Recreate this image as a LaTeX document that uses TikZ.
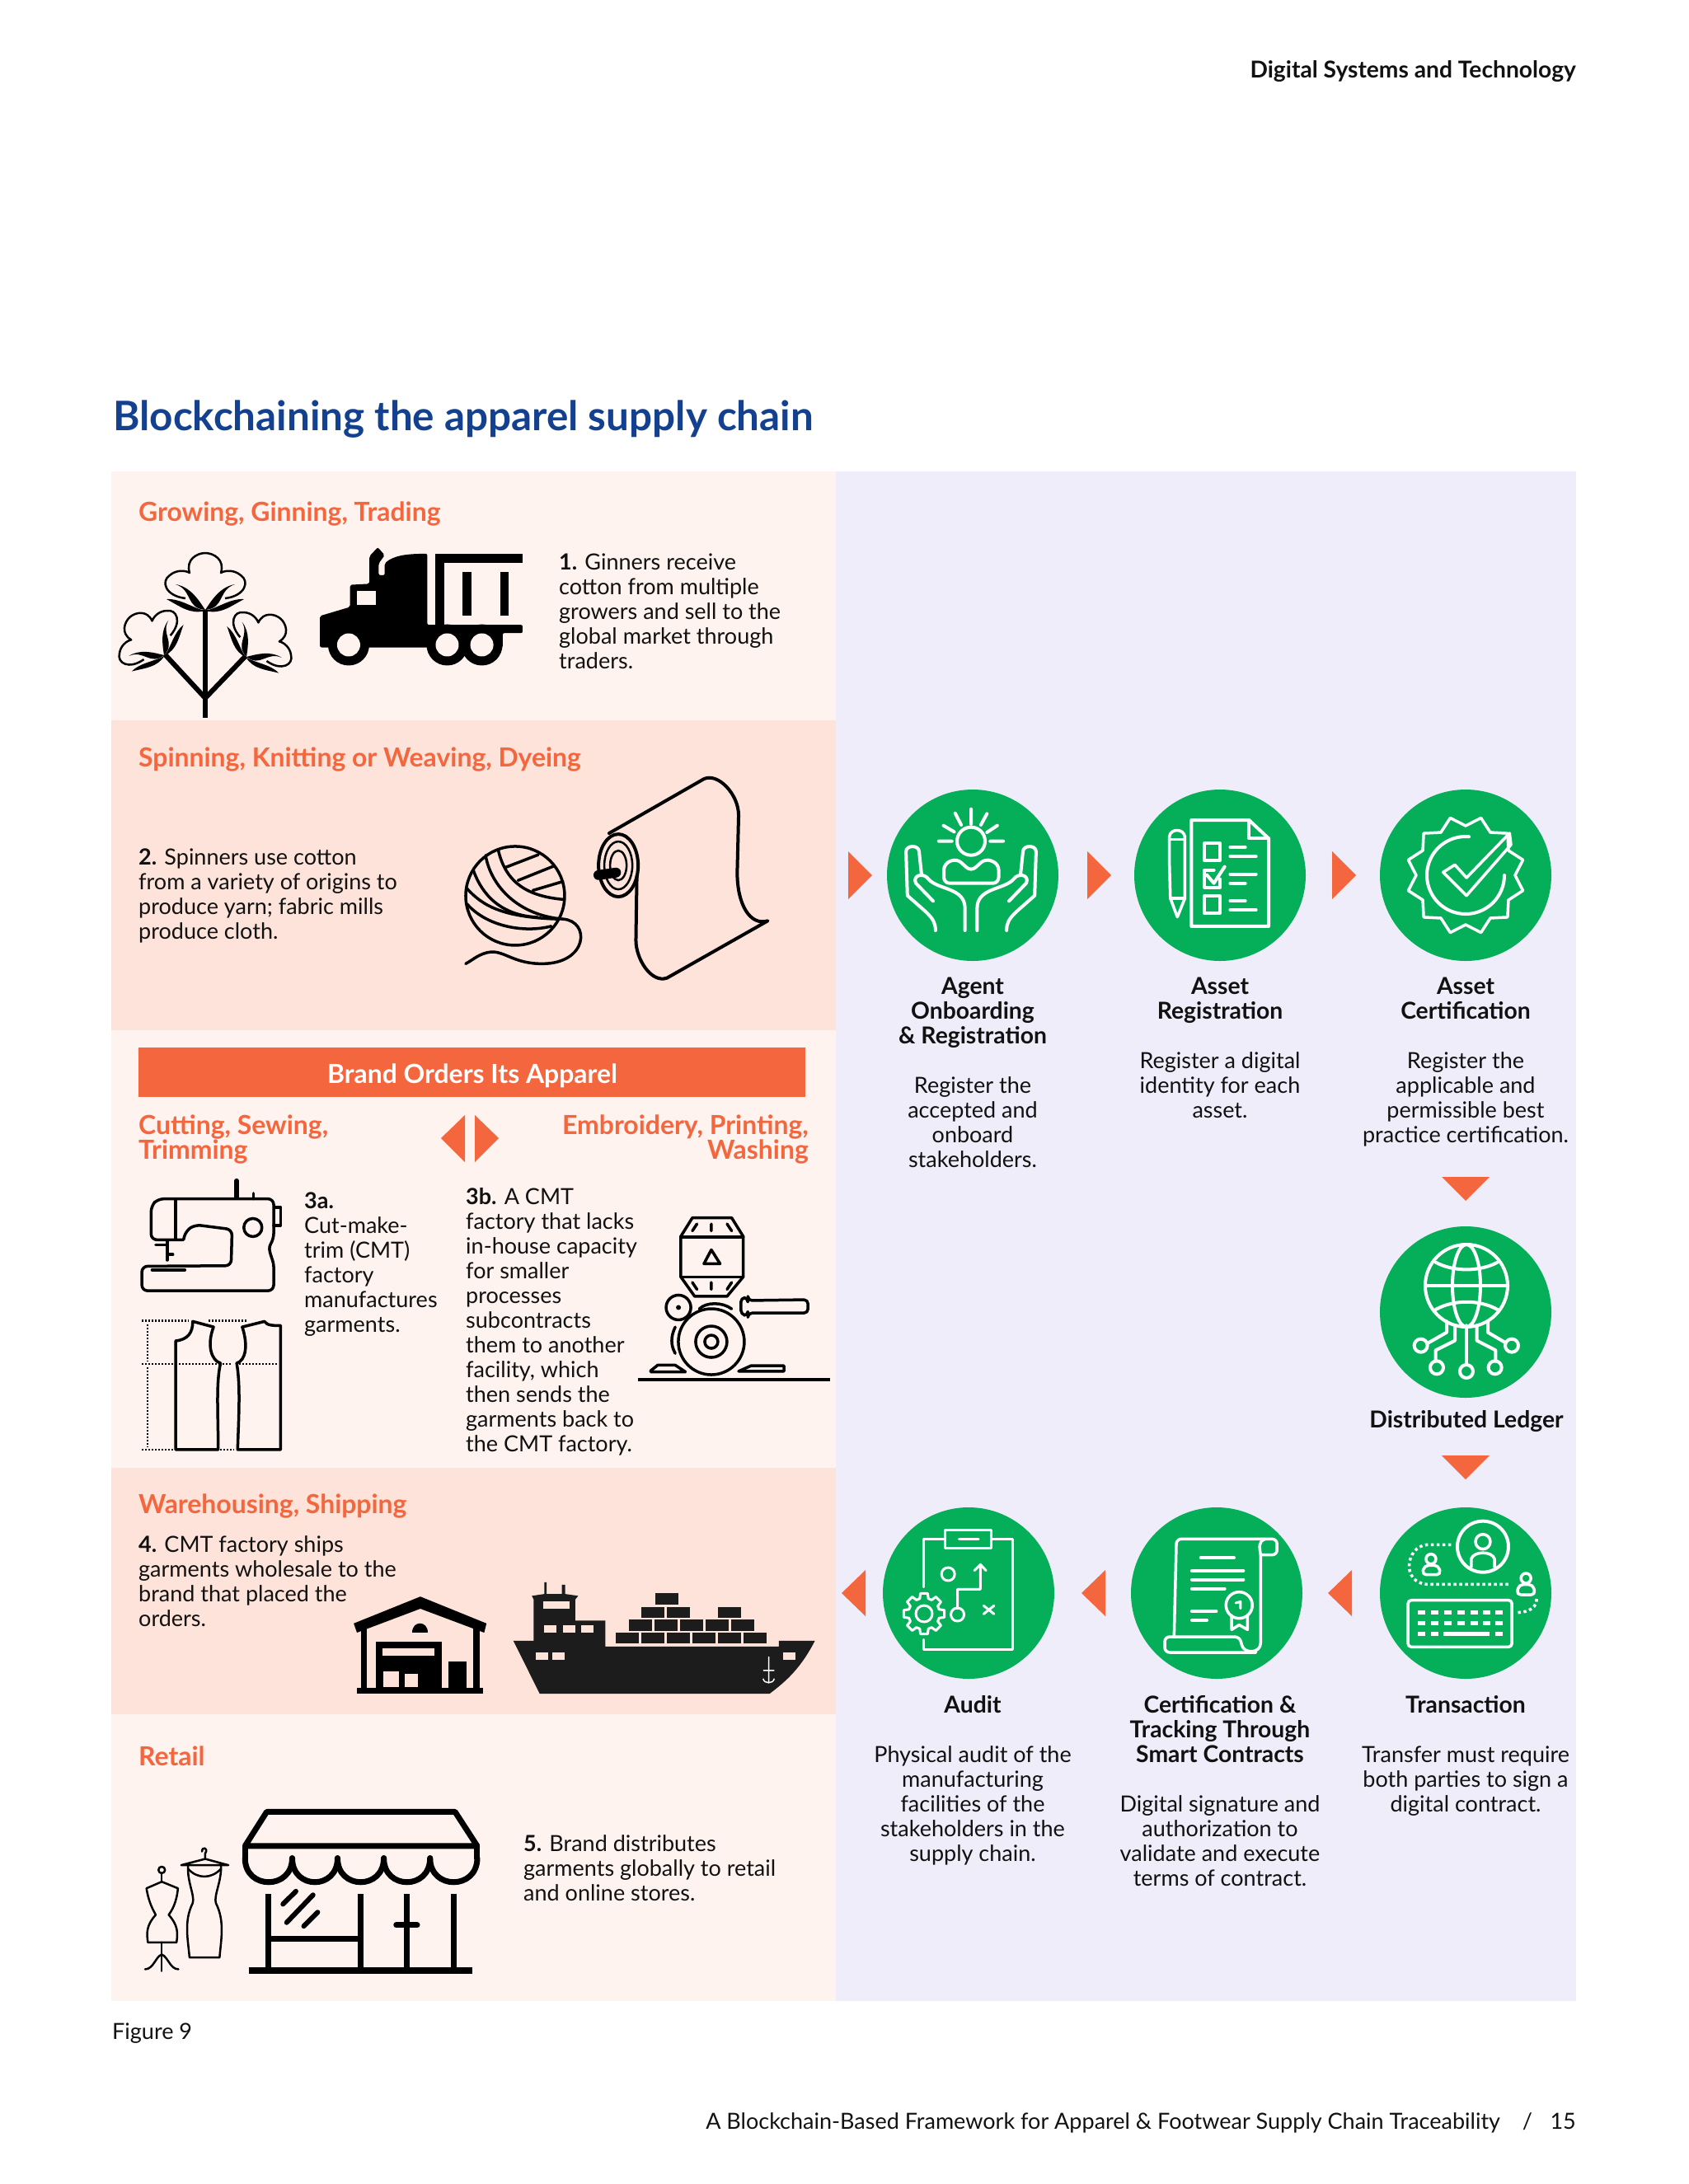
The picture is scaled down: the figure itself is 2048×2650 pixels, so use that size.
\documentclass[tikz,border=0pt]{standalone}
\usepackage{fontspec}
\setmainfont{Lato}
\definecolor{panellight}{HTML}{FEF3EF}
\definecolor{panelpeach}{HTML}{FDE3D9}
\definecolor{panelblue}{HTML}{EEEDF9}
\definecolor{accent}{HTML}{F4663D}
\definecolor{badgegreen}{HTML}{05AF5A}
\definecolor{titleblue}{HTML}{14418F}
\definecolor{inkcol}{HTML}{111111}
\newcommand{\bodyfont}{\fontsize{27}{30}\selectfont}
\newcommand{\headfont}{\fontsize{31.9}{30}\selectfont\bfseries}
\newcommand{\capfont}{\fontsize{28.3}{30}\selectfont\bfseries}
\tikzset{
  cropa/.style={shift={(130,560)},x=.5612pt,y=-.4337pt},
  cropb/.style={shift={(130,1240)},x=.5612pt,y=-.338pt},
  cropc/.style={shift={(130,1760)},x=.5612pt,y=-.4464pt},
  cropd/.style={shift={(1010,930)},x=.5676pt,y=-.3333pt},
  crope/.style={shift={(1010,1780)},x=.5676pt,y=-.3333pt},
  cropf/.style={shift={(1630,1400)},x=.3333pt,y=-.3333pt},
  boll/.pic={
    \draw[line width=2.5pt,line join=round] (-24,-14) .. controls (-49,-17) and (-54,-35) .. (-43,-42)
      .. controls (-35,-49) and (-24,-48) .. (-19,-45) .. controls (-24,-61) and (-10,-69) .. (0,-69)
      .. controls (10,-69) and (24,-61) .. (19,-45) .. controls (24,-48) and (35,-49) .. (43,-42)
      .. controls (54,-35) and (49,-17) .. (24,-14);
    \foreach \m in {1,-1} {
      \fill[xscale=\m] (0,0) .. controls (-24,-2) and (-15,-24) .. (-36,-31) .. controls (-18,-28) and (-8,-12) .. (0,0);
      \fill[xscale=\m] (0,1) .. controls (-18,6) and (-30,-4) .. (-47,-13) .. controls (-30,-14) and (-15,-2) .. (0,1);
    }
  }
}
\begin{document}
\begin{tikzpicture}[x=1pt,y=-1pt,inner sep=0pt,text=inkcol,
    sechead/.style={font=\headfont,text=accent,align=left,anchor=base west},
    bodytext/.style={font=\bodyfont,align=left,anchor=base west},
    caption/.style={font=\capfont,align=center,anchor=base},
    stepnote/.style={font=\bodyfont,align=center,anchor=base},
    badge/.style={circle,fill=badgegreen,minimum size=208pt},
    blk/.style={draw=black,line width=3.5pt,line cap=round,line join=round},
    hair/.style={draw=black,line width=2.5pt,line cap=round,line join=round},
    wht/.style={draw=white,line width=4pt,line cap=round,line join=round},
    dots/.style={draw=black,line width=2.5pt,dash pattern=on 2pt off 2pt}]
  \useasboundingbox (0,0) rectangle (2048,2650);

  % panels
  \fill[panelblue] (1014,572) rectangle (1912,2428);
  \fill[panellight] (135,572) rectangle (1014,874);
  \fill[panelpeach] (135,874) rectangle (1014,1250);
  \fill[panellight] (135,1250) rectangle (1014,1781);
  \fill[panelpeach] (135,1781) rectangle (1014,2080);
  \fill[panellight] (135,2080) rectangle (1014,2428);
  \fill[accent] (168,1271) rectangle (977,1331);

  % page texts
  \node[font=\fontsize{28.2}{30}\selectfont\bfseries,anchor=base east] (runhead) at (1912,94) {Digital Systems and Technology};
  \node[font=\fontsize{49.4}{50}\selectfont\bfseries,text=titleblue,anchor=base west] (maintitle) at (137,522) {Blockchaining the apparel supply chain};
  \node[bodytext] (figlabel) at (136,2474) {Figure 9};
  \node[font=\bodyfont,anchor=base east] (footline) at (1820,2583) {A Blockchain-Based Framework for Apparel \& Footwear Supply Chain Traceability};
  \node[font=\bodyfont,anchor=base] (footslash) at (1853,2583) {/};
  \node[font=\bodyfont,anchor=base east] (footpage) at (1912,2583) {15};

  % left column
  \node[sechead] (growhead) at (168,632) {Growing, Ginning, Trading};
  \node[bodytext] (ginners) at (678,811) {\textbf{1.} Ginners receive\\cotton from multiple\\growers and sell to the\\global market through\\traders.};
  \node[sechead] (spinhead) at (168,930) {Spinning, Knitting or Weaving, Dyeing};
  \node[bodytext] (spinners) at (168,1139) {\textbf{2.} Spinners use cotton\\from a variety of origins to\\produce yarn; fabric mills\\produce cloth.};
  \node[font=\headfont,text=white,anchor=base] (brandbar) at (573,1314) {Brand Orders Its Apparel};
  \node[sechead] (cuthead) at (168,1406) {Cutting, Sewing,\\Trimming};
  \node[sechead,align=right,anchor=base east] (embhead) at (981,1406) {Embroidery, Printing,\\Washing};
  \node[bodytext] (cmtnote) at (369,1616) {\textbf{3a.}\\Cut-make-\\trim (CMT)\\factory\\manufactures\\garments.};
  \node[bodytext] (subnote) at (565,1761) {\textbf{3b.} A CMT\\factory that lacks\\in-house capacity\\for smaller\\processes\\subcontracts\\them to another\\facility, which\\then sends the\\garments back to\\the CMT factory.};
  \node[sechead] (wareshead) at (168,1836) {Warehousing, Shipping};
  \node[bodytext] (shipnote) at (168,1973) {\textbf{4.} CMT factory ships\\garments wholesale to the\\brand that placed the\\orders.};
  \node[sechead] (retailhead) at (168,2142) {Retail};
  \node[bodytext] (retailnote) at (635,2306) {\textbf{5.} Brand distributes\\garments globally to retail\\and online stores.};

  % badges
  \node[badge] (agent) at (1180,1062) {};
  \node[badge] (assetreg) at (1480,1062) {};
  \node[badge] (assetcert) at (1778,1062) {};
  \node[badge] (ledger) at (1778,1592) {};
  \node[badge] (audit) at (1175,1933) {};
  \node[badge] (certtrack) at (1476,1933) {};
  \node[badge] (transact) at (1778,1933) {};

  % badge captions
  \node[caption] (agentcap) at (1180,1266) {Agent\\Onboarding\\\& Registration};
  \node[stepnote] (agentnote) at (1180,1416) {Register the\\accepted and\\onboard\\stakeholders.};
  \node[caption] (regcap) at (1480,1236) {Asset\\Registration};
  \node[stepnote] (regnote) at (1480,1356) {Register a digital\\identity for each\\asset.};
  \node[caption] (certcap) at (1778,1236) {Asset\\Certification};
  \node[stepnote] (certnote) at (1778,1386) {Register the\\applicable and\\permissible best\\practice certification.};
  \node[caption] (ledgercap) at (1779,1732) {Distributed Ledger};
  \node[caption] (auditcap) at (1180,2078) {Audit};
  \node[stepnote] (auditnote) at (1180,2258) {Physical audit of the\\manufacturing\\facilities of the\\stakeholders in the\\supply chain.};
  \node[caption] (trackcap) at (1480,2138) {Certification \&\\Tracking Through\\Smart Contracts};
  \node[stepnote] (tracknote) at (1480,2288) {Digital signature and\\authorization to\\validate and execute\\terms of contract.};
  \node[caption] (transcap) at (1778,2078) {Transaction};
  \node[stepnote] (transnote) at (1778,2198) {Transfer must require\\both parties to sign a\\digital contract.};

  % triangles
  \foreach \x in {1029,1319,1616}
    \fill[accent] (\x,1033) -- (\x+29,1062) -- (\x,1091) -- cycle;
  \foreach \y in {1428,1766}
    \fill[accent] (1749,\y) -- (1807,\y) -- (1778,\y+29) -- cycle;
  \foreach \x in {1021,1312,1611}
    \fill[accent] (\x+29,1905) -- (\x,1933) -- (\x+29,1961) -- cycle;
  \fill[accent] (564,1353) -- (535,1381) -- (564,1410) -- cycle;
  \fill[accent] (576,1353) -- (605,1381) -- (576,1410) -- cycle;

  % cotton plant
  \draw[black,line width=6pt] (249,740) -- (249,871);
  \draw[black,line width=6pt,line join=miter] (200,794) -- (249,847) -- (298,796);
  \path (249,740) pic {boll};
  \path (199,795) pic[rotate=42,scale=.9] {boll};
  \path (299,797) pic[rotate=-42,scale=.9] {boll};

  % truck
  \begin{scope}[cropa]
    \fill[black,rounded corners=2pt] (460,432) -- (525,407) -- (525,345) -- (567,342) -- (567,265) -- (585,240)
      -- (600,262) -- (587,285) -- (587,318) -- (600,318) -- (600,285) .. controls (620,262) and (650,258) .. (692,258)
      -- (692,457) -- (898,457) -- (898,480) -- (855,480) -- (855,520) -- (460,520) -- cycle;
    \fill[black] (710,258) rectangle (898,283);
    \fill[black] (710,258) rectangle (728,460);
    \fill[black] (768,308) rectangle (788,430);
    \fill[black] (850,308) rectangle (868,430);
    \fill[panellight] (540,362) rectangle (580,402);
    \foreach \x in {522,735,810} {
      \fill[black] (\x,513) circle[radius=25pt];
    }
    \foreach \x in {522,735,810} {
      \fill[panellight] (\x,513) circle[radius=14pt];
    }
  \end{scope}

  % yarn and roll
  \begin{scope}[cropa]
    \draw[blk] (882,1215) circle[radius=60pt];
    \draw[blk] (845,1085) .. controls (860,1170) and (900,1215) .. (985,1225);
    \draw[blk] (818,1102) .. controls (830,1190) and (890,1270) .. (985,1280);
    \draw[blk] (792,1145) .. controls (810,1210) and (850,1270) .. (930,1275);
    \draw[blk] (778,1195) .. controls (810,1240) and (850,1275) .. (975,1280);
    \draw[blk] (778,1238) .. controls (820,1300) and (900,1320) .. (960,1300);
    \draw[blk] (862,1135) -- (932,1100);
    \draw[blk] (888,1172) -- (965,1132);
    \draw[blk] (920,1200) -- (985,1175);
    \draw[blk] (985,1280) .. controls (1045,1285) and (1040,1405) .. (940,1405)
      .. controls (880,1405) and (860,1370) .. (830,1372) .. controls (805,1375) and (790,1395) .. (775,1405);
    \draw[blk,line width=4pt] (1085,1040) -- (1290,888) .. controls (1320,870) and (1365,930) .. (1365,990)
      -- (1362,1150) .. controls (1362,1240) and (1390,1300) .. (1428,1285) -- (1210,1445)
      .. controls (1175,1460) and (1143,1390) .. (1143,1340) -- (1145,1160);
    \draw[blk,line width=4pt] (1105,1130) ellipse[x radius=24pt,y radius=38pt];
    \draw[hair] (1105,1130) ellipse[x radius=17pt,y radius=29pt];
    \draw[hair] (1105,1130) ellipse[x radius=10pt,y radius=18pt];
    \draw[black,line width=12pt,line cap=round] (1062,1157) -- (1100,1150);
  \end{scope}

  % sewing machine and pattern
  \begin{scope}[cropb]
    \draw[blk,rounded corners=7pt] (165,782) -- (95,782) -- (95,660) -- (110,635) -- (360,635) -- (360,780)
      .. controls (345,820) and (360,850) .. (360,900) -- (360,965) -- (75,965) -- (75,877) -- (268,875) -- (270,745)
      -- (190,728) -- (170,750) -- (165,782);
    \draw[blk] (148,640) -- (148,780);
    \draw[blk] (315,738) circle[radius=11pt];
    \draw[black,line width=5.5pt,line cap=round] (280,570) -- (280,628);
    \draw[blk] (316,615) -- (316,635);
    \draw[blk] (362,665) -- (375,665) -- (375,730) -- (360,730);
    \draw[blk] (130,785) -- (130,855) (105,800) -- (130,800) (130,835) -- (142,835);
    \draw[blk] (97,890) -- (168,890);
    \draw[blk] (148,1535) -- (148,1145) .. controls (175,1140) and (185,1115) .. (185,1075) -- (230,1095)
      .. controls (215,1160) and (225,1215) .. (245,1225) .. controls (235,1300) and (240,1400) .. (240,1535) -- cycle;
    \draw[blk] (282,1535) .. controls (285,1400) and (288,1300) .. (280,1225) .. controls (300,1215) and (305,1160) .. (292,1095)
      -- (340,1075) .. controls (345,1090) and (360,1090) .. (375,1090) -- (375,1535) -- cycle;
    \draw[dots] (75,1072) -- (175,1072) (220,1072) -- (305,1072);
    \draw[dots] (75,1228) -- (145,1228) (155,1228) -- (245,1228) (250,1228) -- (270,1228) (285,1228) -- (370,1228);
    \draw[dots] (75,1535) -- (145,1535) (245,1535) -- (275,1535);
    \draw[dots] (87,1085) -- (87,1220) (87,1240) -- (87,1525);
  \end{scope}

  % cutting machine
  \begin{scope}[cropb]
    \draw[blk] (1265,703) -- (1350,703) -- (1375,770) -- (1375,915) -- (1340,985) -- (1270,985) -- (1240,915) -- (1240,770) -- cycle;
    \draw[blk] (1240,772) -- (1375,772) (1240,915) -- (1375,915);
    \draw[blk] (1275,725) -- (1265,750) (1306,725) -- (1306,750) (1340,725) -- (1350,750);
    \draw[blk] (1265,935) -- (1275,960) (1306,935) -- (1306,960) (1350,935) -- (1340,960);
    \draw[blk] (1306,818) -- (1290,868) -- (1325,868) -- cycle;
    \draw[blk] (1235,1025) circle[radius=15pt];
    \fill[black] (1235,1025) circle[radius=3pt];
    \draw[blk] (1306,1148) circle[radius=40pt];
    \draw[blk] (1306,1148) circle[radius=19pt];
    \draw[blk] (1306,1148) circle[radius=8pt];
    \draw[blk] (1280,1030) .. controls (1295,1005) and (1330,1005) .. (1350,1030);
    \draw[blk] (1228,1095) .. controls (1218,1130) and (1218,1160) .. (1228,1190);
    \draw[blk,rounded corners=5pt] (1370,1050) -- (1370,990) -- (1385,990) -- (1385,1000) -- (1515,997) -- (1515,1045) -- (1385,1045) -- (1385,1055) -- cycle;
    \draw[blk] (1175,1252) -- (1190,1232) -- (1228,1232) -- (1250,1256) -- (1175,1256) -- cycle;
    \draw[blk] (1365,1254) -- (1392,1234) -- (1463,1234) -- (1463,1254) -- cycle;
    \draw[black,line width=4.5pt] (1147,1284) -- (1563,1284);
  \end{scope}

  % warehouse and ship
  \begin{scope}[cropc]
    \fill[black] (533,470) -- (677,397) -- (820,470) -- (815,495) -- (677,430) -- (540,495) -- cycle;
    \fill[black] (548,482) rectangle (562,650);
    \fill[black] (792,482) rectangle (806,650);
    \fill[black] (540,645) rectangle (813,661);
    \fill[black] (660,495) .. controls (660,462) and (693,462) .. (693,495) -- cycle;
    \fill[black] (580,520) rectangle (723,650);
    \fill[panelpeach] (595,538) rectangle (708,558);
    \fill[panelpeach] (597,600) rectangle (630,642);
    \fill[panelpeach] (643,608) rectangle (672,642);
    \fill[black] (738,574) rectangle (776,650);
    \fill[inkcol!90!gray] (878,517) -- (922,517) -- (922,405) -- (918,395) -- (945,390) -- (945,358) -- (950,358) -- (950,390)
      -- (983,390) -- (983,365) -- (990,365) -- (990,390) -- (1018,395) -- (1012,405) -- (1012,462) -- (1077,462) -- (1077,533)
      -- (1452,533) -- (1452,517) -- (1530,517) .. controls (1500,590) and (1470,625) .. (1432,661) -- (935,661) -- cycle;
    \fill[panelpeach] (942,410) rectangle (1000,431);
    \foreach \x in {945,985,1025}
      \fill[panelpeach] (\x,475) rectangle (\x+27,496);
    \foreach \x in {927,963,1462}
      \fill[panelpeach] (\x,548) rectangle (\x+26,568);
    \foreach \x in {1100,1155,...,1375}
      \fill[inkcol!90!gray] (\x,495) rectangle (\x+50,524);
    \foreach \x in {1128,1183,...,1348}
      \fill[inkcol!90!gray] (\x,460) rectangle (\x+50,490);
    \foreach \x in {1155,1210,1320}
      \fill[inkcol!90!gray] (\x,425) rectangle (\x+50,455);
    \fill[inkcol!90!gray] (1185,388) rectangle (1235,418);
    \draw[white,line width=1.5pt] (1430,560) -- (1430,630) (1418,598) -- (1442,598) (1418,620) .. controls (1420,635) and (1440,635) .. (1442,620);
  \end{scope}

  % shop and dress forms
  \begin{scope}[cropc]
    \draw[black,line width=7pt,line join=round] (298,1075) -- (345,982) -- (752,982) -- (800,1075) -- cycle;
    \foreach \a/\b in {298/400,400/498,498/598,598/698,698/800}
      \draw[black,line width=7pt,line cap=round] (\a,1108) .. controls (\a,1195) and (\b,1195) .. (\b,1108);
    \draw[black,line width=7pt] (298,1075) -- (298,1110) (800,1075) -- (800,1110);
    \foreach \x in {348,548,648,749}
      \draw[black,line width=7pt] (\x,1205) -- (\x,1410);
    \draw[black,line width=7pt] (348,1327) -- (548,1327);
    \draw[black,line width=7pt,line cap=round] (625,1290) -- (670,1290);
    \draw[black,line width=6pt,line cap=round] (380,1233) -- (408,1198) (388,1283) -- (445,1208) (425,1293) -- (455,1255);
    \draw[black,line width=8pt] (306,1413) -- (790,1413);
    \draw[hair] (118,1140) circle[radius=4pt];
    \draw[hair] (118,1150) -- (118,1172);
    \draw[hair] (118,1172) -- (85,1190) .. controls (90,1230) and (100,1250) .. (105,1262) .. controls (85,1290) and (85,1310) .. (88,1337)
      -- (150,1337) .. controls (153,1310) and (153,1290) .. (133,1262) .. controls (140,1250) and (150,1230) .. (153,1190) -- cycle;
    \draw[hair] (118,1337) -- (118,1415);
    \draw[hair] (118,1370) .. controls (105,1375) and (100,1410) .. (82,1410);
    \draw[hair] (118,1370) .. controls (131,1375) and (136,1410) .. (154,1410);
    \draw[hair] (205,1090) .. controls (205,1075) and (220,1080) .. (212,1095) -- (212,1110);
    \draw[hair] (160,1127) -- (212,1110) -- (262,1127) -- cycle;
    \draw[hair] (175,1127) .. controls (172,1170) and (190,1210) .. (185,1230) .. controls (165,1280) and (175,1330) .. (178,1378)
      -- (243,1378) .. controls (246,1330) and (255,1280) .. (235,1230) .. controls (230,1210) and (248,1170) .. (246,1127);
    \draw[hair] (175,1137) .. controls (195,1165) and (225,1165) .. (246,1137);
  \end{scope}

  % agent icon
  \begin{scope}[cropd]
    \draw[wht] (296,272) circle[radius=17pt];
    \draw[wht] (227,272) -- (255,272) (337,272) -- (365,272) (237,215) -- (260,238) (352,215) -- (330,240)
      (262,170) -- (275,213) (330,172) -- (317,213) (296,155) -- (296,210);
    \draw[wht,rounded corners=7pt] (265,335) -- (296,382) -- (327,335) -- (355,355) -- (355,425) -- (238,425) -- (238,355) -- cycle;
    \foreach \m in {1,-1} {
      \begin{scope}[shift={(296,0)},xscale=\m,shift={(-296,0)}]
        \draw[wht] (220,597) .. controls (220,570) and (215,555) .. (200,530) -- (160,470) -- (157,310)
          .. controls (157,285) and (185,285) .. (185,310) -- (190,390);
        \draw[wht] (215,490) -- (178,425) .. controls (170,395) and (195,385) .. (205,410) .. controls (225,450) and (285,440) .. (283,520) -- (283,597);
      \end{scope}
    }
  \end{scope}

  % registration icon
  \begin{scope}[cropd]
    \draw[wht] (767,195) -- (890,195) -- (932,262) -- (932,582) -- (767,582) -- cycle;
    \draw[wht] (890,195) -- (890,262) -- (932,262);
    \foreach \y in {280,472}
      \draw[wht] (795,\y) rectangle (828,\y+62);
    \draw[wht] (828,410) -- (828,440) -- (795,440) -- (795,378) -- (815,378);
    \draw[wht] (800,395) -- (815,425) -- (838,365);
    \foreach \y in {293,425,490}
      \draw[wht] (850,\y) -- (882,\y);
    \foreach \y in {328,392,522}
      \draw[wht] (850,\y) -- (905,\y);
    \draw[wht,line width=3.5pt] (720,355) -- (720,255) .. controls (722,225) and (750,225) .. (753,255) -- (753,480) -- (737,548) -- (722,480) -- (720,355);
    \draw[wht,line width=3.5pt] (720,265) -- (753,265) (722,480) -- (753,480);
  \end{scope}

  % certification icon
  \begin{scope}[shift={(1778,1062)}]
    \draw[wht,line width=3.5pt] (15:72pt) \foreach \a in {15,45,...,345} { -- (\a:72pt) -- (\a+15:60pt) } -- cycle;
    \draw[wht] (85:47pt) arc[start angle=85,end angle=360,radius=47pt];
  \end{scope}
  \begin{scope}[cropd]
    \draw[wht,line width=3.5pt] (1447,243) -- (1355,405) -- (1330,358) -- (1305,385) -- (1355,470) -- (1450,285) -- cycle;
  \end{scope}

  % ledger icon
  \begin{scope}[cropf]
    \draw[wht] (447,480) circle[radius=50pt];
    \draw[wht] (447,480) ellipse[x radius=17pt,y radius=50pt];
    \draw[wht] (298,480) -- (598,480);
    \draw[wht] (335,395) .. controls (400,430) and (495,430) .. (560,395);
    \draw[wht] (335,567) .. controls (400,530) and (495,530) .. (560,567);
    \draw[wht] (447,625) -- (447,765);
    \draw[wht] (405,625) -- (405,680) -- (335,715) -- (335,755);
    \draw[wht] (375,610) -- (375,650) -- (305,690);
    \draw[wht] (485,625) -- (485,680) -- (553,715) -- (553,755);
    \draw[wht] (525,610) -- (525,650) -- (590,688);
    \foreach \p in {447/792,339/778,281/698,551/778,612/698}
      \foreach \a/\b in \p
        \draw[wht] (\a,\b) circle[radius=8pt];
  \end{scope}

  % audit icon
  \begin{scope}[crope]
    \draw[wht,line width=3pt] (240,262) -- (195,262) -- (195,437) (195,628) -- (195,665) -- (385,665) -- (385,262) -- (340,262);
    \draw[wht,line width=3pt] (240,228) rectangle (340,295);
    \draw[wht,line width=3pt] (270,262) -- (312,262);
    \draw[wht,line width=3pt] (247,390) circle[radius=8pt];
    \draw[wht,line width=3pt] (267,515) -- (267,445) -- (316,445) -- (316,360) (303,377) -- (316,355) -- (328,377);
    \draw[wht,line width=3pt] (267,537) circle[radius=8pt];
    \draw[wht,line width=3pt] (323,505) -- (345,535) (345,505) -- (323,535);
  \end{scope}
  \begin{scope}[shift={(1121,1958)}]
    \draw[wht,line width=3pt] (-10:25pt) \foreach \a in {0,45,...,315} { -- (\a-10:25pt) -- (\a+10:25pt) -- (\a+16:19pt) -- (\a+29:19pt) } -- cycle;
    \draw[wht,line width=3pt] (0,0) circle[radius=10pt];
  \end{scope}

  % contract icon
  \begin{scope}[crope]
    \draw[wht,line width=3.5pt,rounded corners=6pt] (730,615) -- (735,262) -- (950,262) -- (950,320) -- (915,320);
    \draw[wht,line width=3.5pt] (925,262) .. controls (910,270) and (912,290) .. (915,320) -- (915,640) .. controls (915,680) and (880,680) .. (875,650);
    \draw[wht,line width=3.5pt,rounded corners=6pt] (875,650) -- (870,618) -- (710,618) -- (710,675) -- (905,675);
    \foreach \l/\r/\y in {787/858/330,768/878/378,768/878/410,768/838/443,768/820/525,768/800/557}
      \draw[wht] (\l,\y) -- (\r,\y);
    \draw[wht,line width=3.5pt] (869,503) circle[radius=16pt];
    \draw[wht,line width=3pt] (862,495) -- (872,490) -- (872,515);
    \draw[wht,line width=3.5pt] (853,540) -- (853,592) -- (869,575) -- (887,592) -- (887,540);
  \end{scope}

  % transaction icon
  \begin{scope}[crope]
    \draw[wht] (1390,290) circle[radius=31pt];
    \draw[wht,line width=3.5pt] (1390,272) circle[radius=9pt];
    \draw[wht,line width=3.5pt] (1365,365) -- (1365,335) .. controls (1370,305) and (1410,305) .. (1415,335) -- (1415,365);
    \draw[wht,line width=3.5pt] (1279,335) circle[radius=6pt];
    \draw[wht,line width=3.5pt,rounded corners=5pt] (1260,392) -- (1265,358) -- (1295,358) -- (1300,392) -- cycle;
    \draw[wht,line width=3.5pt] (1482,405) circle[radius=6pt];
    \draw[wht,line width=3.5pt,rounded corners=5pt] (1462,465) -- (1467,428) -- (1497,428) -- (1502,465) -- cycle;
    \draw[white,line width=3.5pt,dash pattern=on 3.5pt off 3.5pt] (1322,283) -- (1270,283) .. controls (1225,290) and (1215,420) .. (1270,427) -- (1450,427);
    \draw[white,line width=3.5pt,dash pattern=on 3.5pt off 3.5pt] (1505,480) .. controls (1505,510) and (1490,528) .. (1465,530);
    \draw[wht,line width=3.5pt,rounded corners=4pt] (1230,485) rectangle (1452,655);
    \foreach \y in {530,568}
      \foreach \x in {1258,1287,1315,1343,1371,1398,1425}
        \fill[white] (\x-8,\y-8) rectangle (\x+8,\y+8);
    \foreach \x in {1258,1287,1425}
      \fill[white] (\x-8,599) rectangle (\x+8,615);
    \fill[white] (1305,599) rectangle (1405,615);
  \end{scope}
\end{tikzpicture}
\end{document}
